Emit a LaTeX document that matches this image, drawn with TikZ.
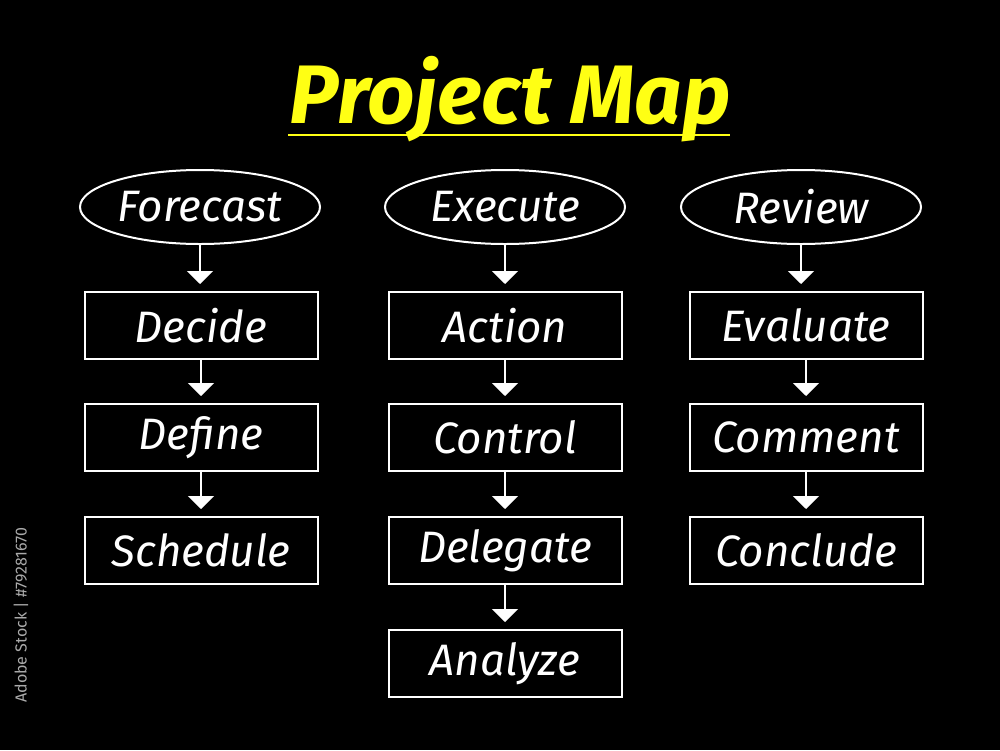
\documentclass[tikz,border=0pt]{standalone}
\usepackage{fontspec}
\setmainfont{Fira Sans}
\usetikzlibrary{shapes.geometric,arrows.meta}
\definecolor{titleyellow}{RGB}{255,255,20}
\definecolor{markgray}{RGB}{170,170,170}
\begin{document}
\begin{tikzpicture}[x=0.5pt,y=-0.5pt,
  label text/.style={text=white,font=\itshape\fontsize{22}{22}\selectfont},
  stepbox/.style={draw=white,line width=1pt,minimum width=116.5pt,minimum height=33.5pt,inner sep=0pt,label text},
  oval/.style={ellipse,draw=white,line width=1pt,minimum width=120pt,minimum height=37pt,inner xsep=-15pt,inner ysep=-2pt,label text},
  flow/.style={draw=white,line width=1pt,-{Triangle[width=13pt,length=6.5pt,fill=white]},shorten >=3.5pt}]
\useasboundingbox (0,0) rectangle (1000,750);
\fill[black] (0,0) rectangle (1000,750);
% title
\node[text=titleyellow,font=\bfseries\itshape\fontsize{41.5}{41.5}\selectfont] (title) at (510,99) {Project Map};
\draw[titleyellow,line width=1.4pt] (288,135) -- (730,135);
% column 1
\node[oval] (forecast) at (200,207) {Forecast};
\node[stepbox] (decide) at (201,325.5) {Decide};
\node[stepbox] (define) at (201,437.5) {Define};
\node[stepbox] (schedule) at (201,550.5) {Schedule};
% column 2
\node[oval] (execute) at (505,207) {Execute};
\node[stepbox] (action) at (505,325.5) {Action};
\node[stepbox] (control) at (505,437.5) {Control};
\node[stepbox] (delegate) at (505,550.5) {Delegate};
\node[stepbox] (analyze) at (505,663.5) {Analyze};
% column 3
\node[oval] (review) at (801,207) {Review};
\node[stepbox] (evaluate) at (806,325.5) {Evaluate};
\node[stepbox] (comment) at (806,437.5) {Comment};
\node[stepbox] (conclude) at (806,550.5) {Conclude};
% connectors
\draw[flow] (forecast.south) -- (forecast.south |- decide.north);
\draw[flow] (decide.south) -- (define.north);
\draw[flow] (define.south) -- (schedule.north);
\draw[flow] (execute.south) -- (action.north);
\draw[flow] (action.south) -- (control.north);
\draw[flow] (control.south) -- (delegate.north);
\draw[flow] (delegate.south) -- (analyze.north);
\draw[flow] (review.south) -- (review.south |- evaluate.north);
\draw[flow] (evaluate.south) -- (comment.north);
\draw[flow] (comment.south) -- (conclude.north);
% side mark
\node[rotate=90,text=markgray,font=\fontsize{8}{8}\selectfont] (mark) at (21,615) {Adobe Stock | \#79281670};
\end{tikzpicture}
\end{document}
